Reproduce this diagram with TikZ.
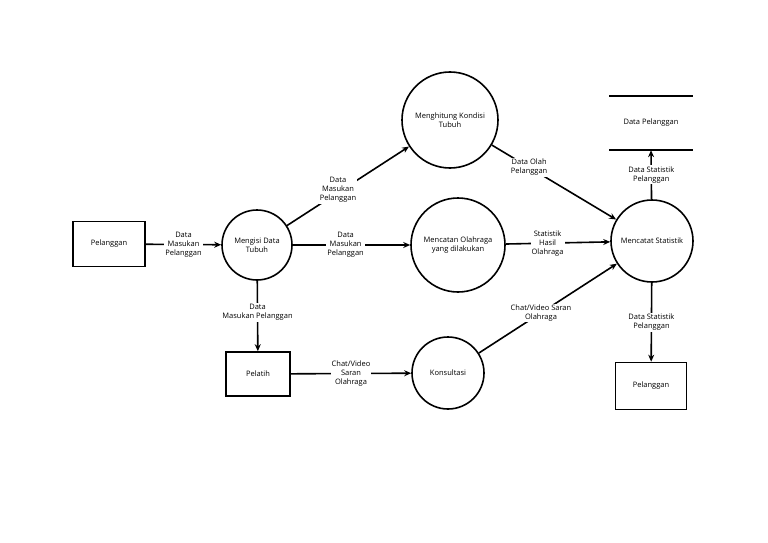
\documentclass[tikz,border=0pt]{standalone}
\usepackage{fontspec}
\setmainfont{Open Sans}
\usetikzlibrary{arrows.meta}
\begin{document}
\begin{tikzpicture}[x=1pt,y=-1pt,
  proc/.style={draw,line width=1.6pt,circle,inner sep=0pt,font=\fontsize{7.5}{9}\selectfont,align=center},
  ent/.style={draw,line width=1.6pt,rectangle,inner sep=0pt,font=\fontsize{7.5}{9}\selectfont},
  lbl/.style={fill=white,inner sep=1pt,font=\fontsize{7.5}{9}\selectfont,align=center},
  flow/.style={line width=1.6pt,-{Stealth[length=7pt,width=6pt]}}]
\useasboundingbox (0,0) rectangle (768,543);
\node[ent,minimum width=72pt,minimum height=45pt] (p1) at (109,244) {Pelanggan};
\node[proc,minimum size=70pt] (m) at (257,245) {Mengisi Data\\Tubuh};
\node[proc,minimum size=96pt] (k) at (450,120) {Menghitung Kondisi\\Tubuh};
\node[proc,minimum size=94pt] (o) at (458,245) {Mencatan Olahraga\\yang dilakukan};
\node[proc,minimum size=72pt] (ks) at (448,373) {Konsultasi};
\node[ent,minimum width=64pt,minimum height=44pt] (pl) at (258,374) {Pelatih};
\node[proc,minimum size=82pt] (s) at (652,241) {Mencatat Statistik};
\node[ent,minimum width=71pt,minimum height=47pt] (p2) at (651,386) {Pelanggan};
\node[font=\fontsize{7.5}{9}\selectfont,minimum width=83pt,minimum height=54pt] (dp) at (651,123) {Data Pelanggan};
\draw[line width=1.6pt] (dp.north west) -- (dp.north east);
\draw[line width=1.6pt] (dp.south west) -- (dp.south east);
\draw[flow] (p1) -- node[lbl] {Data\\Masukan\\Pelanggan} (m);
\draw[flow] (m) -- node[lbl,pos=0.45,xshift=-4pt] {Data\\Masukan\\Pelanggan} (k);
\draw[flow] (m) -- node[lbl,pos=0.45] {Data\\Masukan\\Pelanggan} (o);
\draw[flow] (m) -- node[lbl,pos=0.45] {Data\\Masukan Pelanggan} (pl);
\draw[flow] (pl) -- node[lbl] {Chat/Video\\Saran\\Olahraga} (ks);
\draw[flow] (k) -- node[lbl,pos=0.3] {Data Olah\\Pelanggan} (s);
\draw[flow] (o) -- node[lbl,pos=0.4] {Statistik\\Hasil\\Olahraga} (s);
\draw[flow] (ks) -- node[lbl,pos=0.45] {Chat/Video Saran\\Olahraga} (s);
\draw[flow] (s) -- node[lbl] {Data Statistik\\Pelanggan} (dp.south);
\draw[flow] (s) -- node[lbl] {Data Statistik\\Pelanggan} (p2);
\end{tikzpicture}
\end{document}
